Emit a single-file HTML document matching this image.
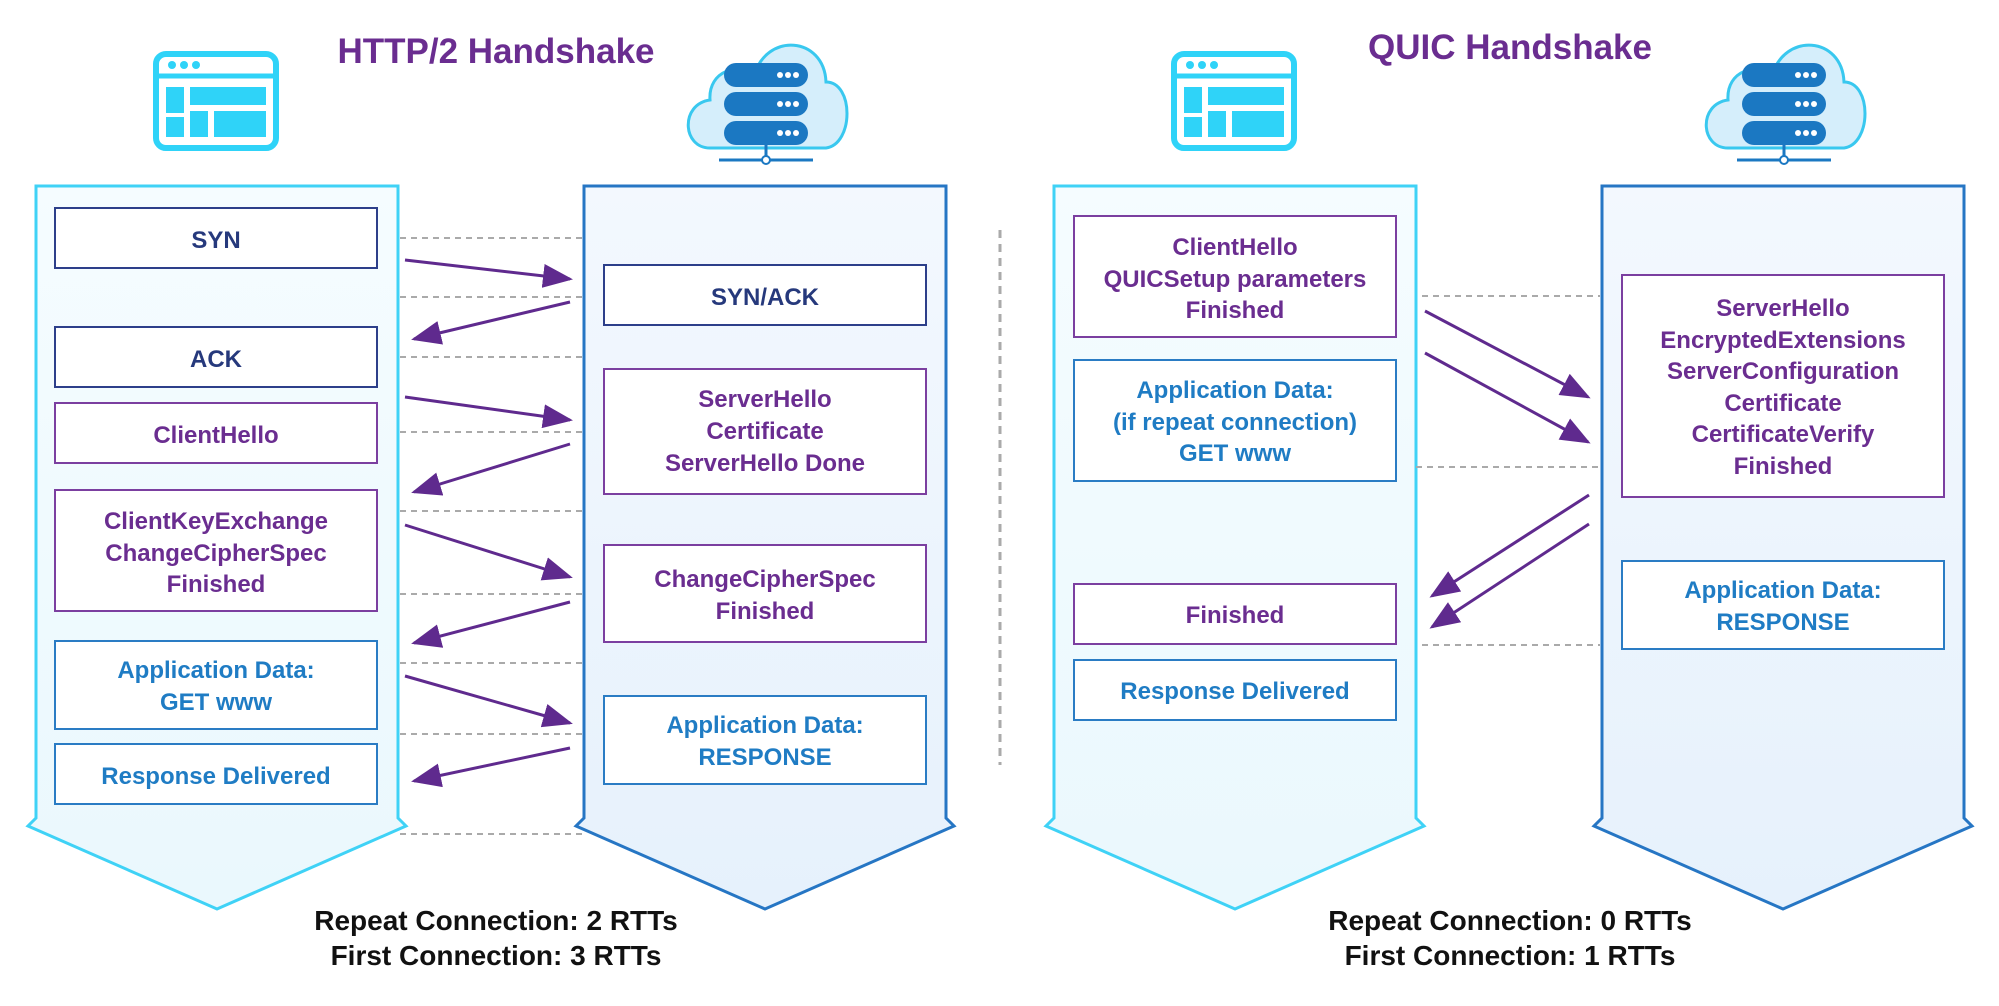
<!DOCTYPE html>
<html><head><meta charset="utf-8"><style>
html,body{margin:0;padding:0;background:#fff;}
svg{display:block;font-family:"Liberation Sans",sans-serif;}
.t{font-size:24px;font-weight:bold;text-anchor:middle;}
.n{fill:#26397c}.p{fill:#6a2d90}.b{fill:#1f7cc4}
.title{font-size:35px;font-weight:bold;fill:#6a2d90;text-anchor:middle;}
.bt{font-size:28px;font-weight:bold;fill:#111;text-anchor:middle;}
.dash{stroke:#aaa;stroke-width:2;stroke-dasharray:6 5;}
.ar{stroke:#5f2a8e;stroke-width:3;marker-end:url(#ah);}
</style></head><body>
<svg width="1999" height="1006" viewBox="0 0 1999 1006" xmlns="http://www.w3.org/2000/svg">
<defs>
<marker id="ah" markerWidth="10" markerHeight="8" refX="9" refY="4" orient="auto" markerUnits="strokeWidth"><path d="M0,0 L10,4 L0,8 Z" fill="#5f2a8e"/></marker>
<linearGradient id="gc" x1="0" y1="0" x2="0" y2="1"><stop offset="0" stop-color="#f5fcff"/><stop offset="1" stop-color="#eaf8fd"/></linearGradient>
<linearGradient id="gs" x1="0" y1="0" x2="0" y2="1"><stop offset="0" stop-color="#f3f8fe"/><stop offset="1" stop-color="#e6f1fc"/></linearGradient>
<g id="browser">
<rect x="3" y="3" width="120" height="94" rx="10" fill="#fff" stroke="#2fd3f8" stroke-width="6"/>
<line x1="3" y1="25" x2="123" y2="25" stroke="#2fd3f8" stroke-width="5"/>
<circle cx="19" cy="14" r="4" fill="#2fd3f8"/><circle cx="31" cy="14" r="4" fill="#2fd3f8"/><circle cx="43" cy="14" r="4" fill="#2fd3f8"/>
<rect x="13" y="36" width="18" height="26" fill="#2fd3f8"/><rect x="37" y="36" width="76" height="18" fill="#2fd3f8"/>
<rect x="13" y="66" width="18" height="20" fill="#2fd3f8"/><rect x="37" y="60" width="18" height="26" fill="#2fd3f8"/><rect x="61" y="60" width="52" height="26" fill="#2fd3f8"/>
</g>
<g id="cloud">
<path d="M28,112 C0,112 -2,68 28,64 C26,34 58,26 72,40 C84,-4 142,0 144,46 C172,46 172,108 144,112 Z" fill="#d5eefb" stroke="#39c8ef" stroke-width="3"/>
<rect x="42" y="27" width="84" height="24" rx="12" fill="#1b78c2"/>
<rect x="42" y="56" width="84" height="24" rx="12" fill="#1b78c2"/>
<rect x="42" y="85" width="84" height="24" rx="12" fill="#1b78c2"/>
<g fill="#fff"><circle cx="98" cy="39" r="3"/><circle cx="106" cy="39" r="3"/><circle cx="114" cy="39" r="3"/>
<circle cx="98" cy="68" r="3"/><circle cx="106" cy="68" r="3"/><circle cx="114" cy="68" r="3"/>
<circle cx="98" cy="97" r="3"/><circle cx="106" cy="97" r="3"/><circle cx="114" cy="97" r="3"/></g>
<line x1="84" y1="109" x2="84" y2="121" stroke="#1b78c2" stroke-width="3"/>
<line x1="37" y1="124" x2="131" y2="124" stroke="#1b78c2" stroke-width="3"/>
<circle cx="84" cy="124" r="4" fill="#fff" stroke="#1b78c2" stroke-width="2"/>
</g>
</defs>

<!-- HTTP/2 -->
<use href="#browser" x="153" y="51"/>
<use href="#cloud" x="682" y="36"/>
<text class="title" x="496" y="63">HTTP/2 Handshake</text>
<path d="M36,186 H398 V818 L406,826 L217,909 L28,826 L36,818 Z" fill="url(#gc)" stroke="#3fd2f6" stroke-width="3"/>
<path d="M584,186 H946 V818 L954,826 L765,909 L576,826 L584,818 Z" fill="url(#gs)" stroke="#2676c4" stroke-width="3"/>
<g class="dash">
<line x1="400" y1="238" x2="582" y2="238"/><line x1="400" y1="297" x2="582" y2="297"/><line x1="400" y1="357" x2="582" y2="357"/>
<line x1="400" y1="432" x2="582" y2="432"/><line x1="400" y1="511" x2="582" y2="511"/><line x1="400" y1="594" x2="582" y2="594"/>
<line x1="400" y1="663" x2="582" y2="663"/><line x1="400" y1="734" x2="582" y2="734"/><line x1="400" y1="834" x2="582" y2="834"/>
</g>
<g fill="#fff" stroke-width="2">
<rect x="55" y="208" width="322" height="60" stroke="#2d3f8a"/>
<rect x="55" y="327" width="322" height="60" stroke="#2d3f8a"/>
<rect x="55" y="403" width="322" height="60" stroke="#7b3fa0"/>
<rect x="55" y="490" width="322" height="121" stroke="#7b3fa0"/>
<rect x="55" y="641" width="322" height="88" stroke="#2a7cc4"/>
<rect x="55" y="744" width="322" height="60" stroke="#2a7cc4"/>
<rect x="604" y="265" width="322" height="60" stroke="#2d3f8a"/>
<rect x="604" y="369" width="322" height="125" stroke="#7b3fa0"/>
<rect x="604" y="545" width="322" height="97" stroke="#7b3fa0"/>
<rect x="604" y="696" width="322" height="88" stroke="#2a7cc4"/>
</g>
<text class="t n" x="216" y="248">SYN</text>
<text class="t n" x="216" y="367">ACK</text>
<text class="t p" x="216" y="443">ClientHello</text>
<text class="t p" x="216" y="529">ClientKeyExchange</text>
<text class="t p" x="216" y="561">ChangeCipherSpec</text>
<text class="t p" x="216" y="592">Finished</text>
<text class="t b" x="216" y="678">Application Data:</text>
<text class="t b" x="216" y="710">GET www</text>
<text class="t b" x="216" y="784">Response Delivered</text>
<text class="t n" x="765" y="305">SYN/ACK</text>
<text class="t p" x="765" y="407">ServerHello</text>
<text class="t p" x="765" y="439">Certificate</text>
<text class="t p" x="765" y="471">ServerHello Done</text>
<text class="t p" x="765" y="587">ChangeCipherSpec</text>
<text class="t p" x="765" y="619">Finished</text>
<text class="t b" x="765" y="733">Application Data:</text>
<text class="t b" x="765" y="765">RESPONSE</text>
<g class="ar">
<line x1="405" y1="260" x2="570" y2="279"/>
<line x1="570" y1="302" x2="414" y2="339"/>
<line x1="405" y1="397" x2="570" y2="420"/>
<line x1="570" y1="444" x2="414" y2="492"/>
<line x1="405" y1="525" x2="570" y2="577"/>
<line x1="570" y1="602" x2="414" y2="643"/>
<line x1="405" y1="676" x2="570" y2="723"/>
<line x1="570" y1="748" x2="414" y2="781"/>
</g>
<text class="bt" x="496" y="930">Repeat Connection: 2 RTTs</text>
<text class="bt" x="496" y="965">First Connection: 3 RTTs</text>

<line x1="1000" y1="230" x2="1000" y2="765" stroke="#aaa" stroke-width="3" stroke-dasharray="8 6"/>

<!-- QUIC -->
<use href="#browser" x="1171" y="51"/>
<use href="#cloud" x="1700" y="36"/>
<text class="title" x="1510" y="59">QUIC Handshake</text>
<path d="M1054,186 H1416 V818 L1424,826 L1235,909 L1046,826 L1054,818 Z" fill="url(#gc)" stroke="#3fd2f6" stroke-width="3"/>
<path d="M1602,186 H1964 V818 L1972,826 L1783,909 L1594,826 L1602,818 Z" fill="url(#gs)" stroke="#2676c4" stroke-width="3"/>
<g class="dash">
<line x1="1422" y1="296" x2="1600" y2="296"/><line x1="1416" y1="467" x2="1600" y2="467"/><line x1="1422" y1="645" x2="1600" y2="645"/>
</g>
<g fill="#fff" stroke-width="2">
<rect x="1074" y="216" width="322" height="121" stroke="#7b3fa0"/>
<rect x="1074" y="360" width="322" height="121" stroke="#2a7cc4"/>
<rect x="1074" y="584" width="322" height="60" stroke="#7b3fa0"/>
<rect x="1074" y="660" width="322" height="60" stroke="#2a7cc4"/>
<rect x="1622" y="275" width="322" height="222" stroke="#7b3fa0"/>
<rect x="1622" y="561" width="322" height="88" stroke="#2a7cc4"/>
</g>
<text class="t p" x="1235" y="255">ClientHello</text>
<text class="t p" x="1235" y="287">QUICSetup parameters</text>
<text class="t p" x="1235" y="318">Finished</text>
<text class="t b" x="1235" y="398">Application Data:</text>
<text class="t b" x="1235" y="430">(if repeat connection)</text>
<text class="t b" x="1235" y="461">GET www</text>
<text class="t p" x="1235" y="623">Finished</text>
<text class="t b" x="1235" y="699">Response Delivered</text>
<text class="t p" x="1783" y="316">ServerHello</text>
<text class="t p" x="1783" y="348">EncryptedExtensions</text>
<text class="t p" x="1783" y="379">ServerConfiguration</text>
<text class="t p" x="1783" y="411">Certificate</text>
<text class="t p" x="1783" y="442">CertificateVerify</text>
<text class="t p" x="1783" y="474">Finished</text>
<text class="t b" x="1783" y="598">Application Data:</text>
<text class="t b" x="1783" y="630">RESPONSE</text>
<g class="ar">
<line x1="1425" y1="311" x2="1588" y2="397"/>
<line x1="1425" y1="353" x2="1588" y2="442"/>
<line x1="1589" y1="495" x2="1432" y2="596"/>
<line x1="1589" y1="524" x2="1432" y2="627"/>
</g>
<text class="bt" x="1510" y="930">Repeat Connection: 0 RTTs</text>
<text class="bt" x="1510" y="965">First Connection: 1 RTTs</text>
</svg>
</body></html>
